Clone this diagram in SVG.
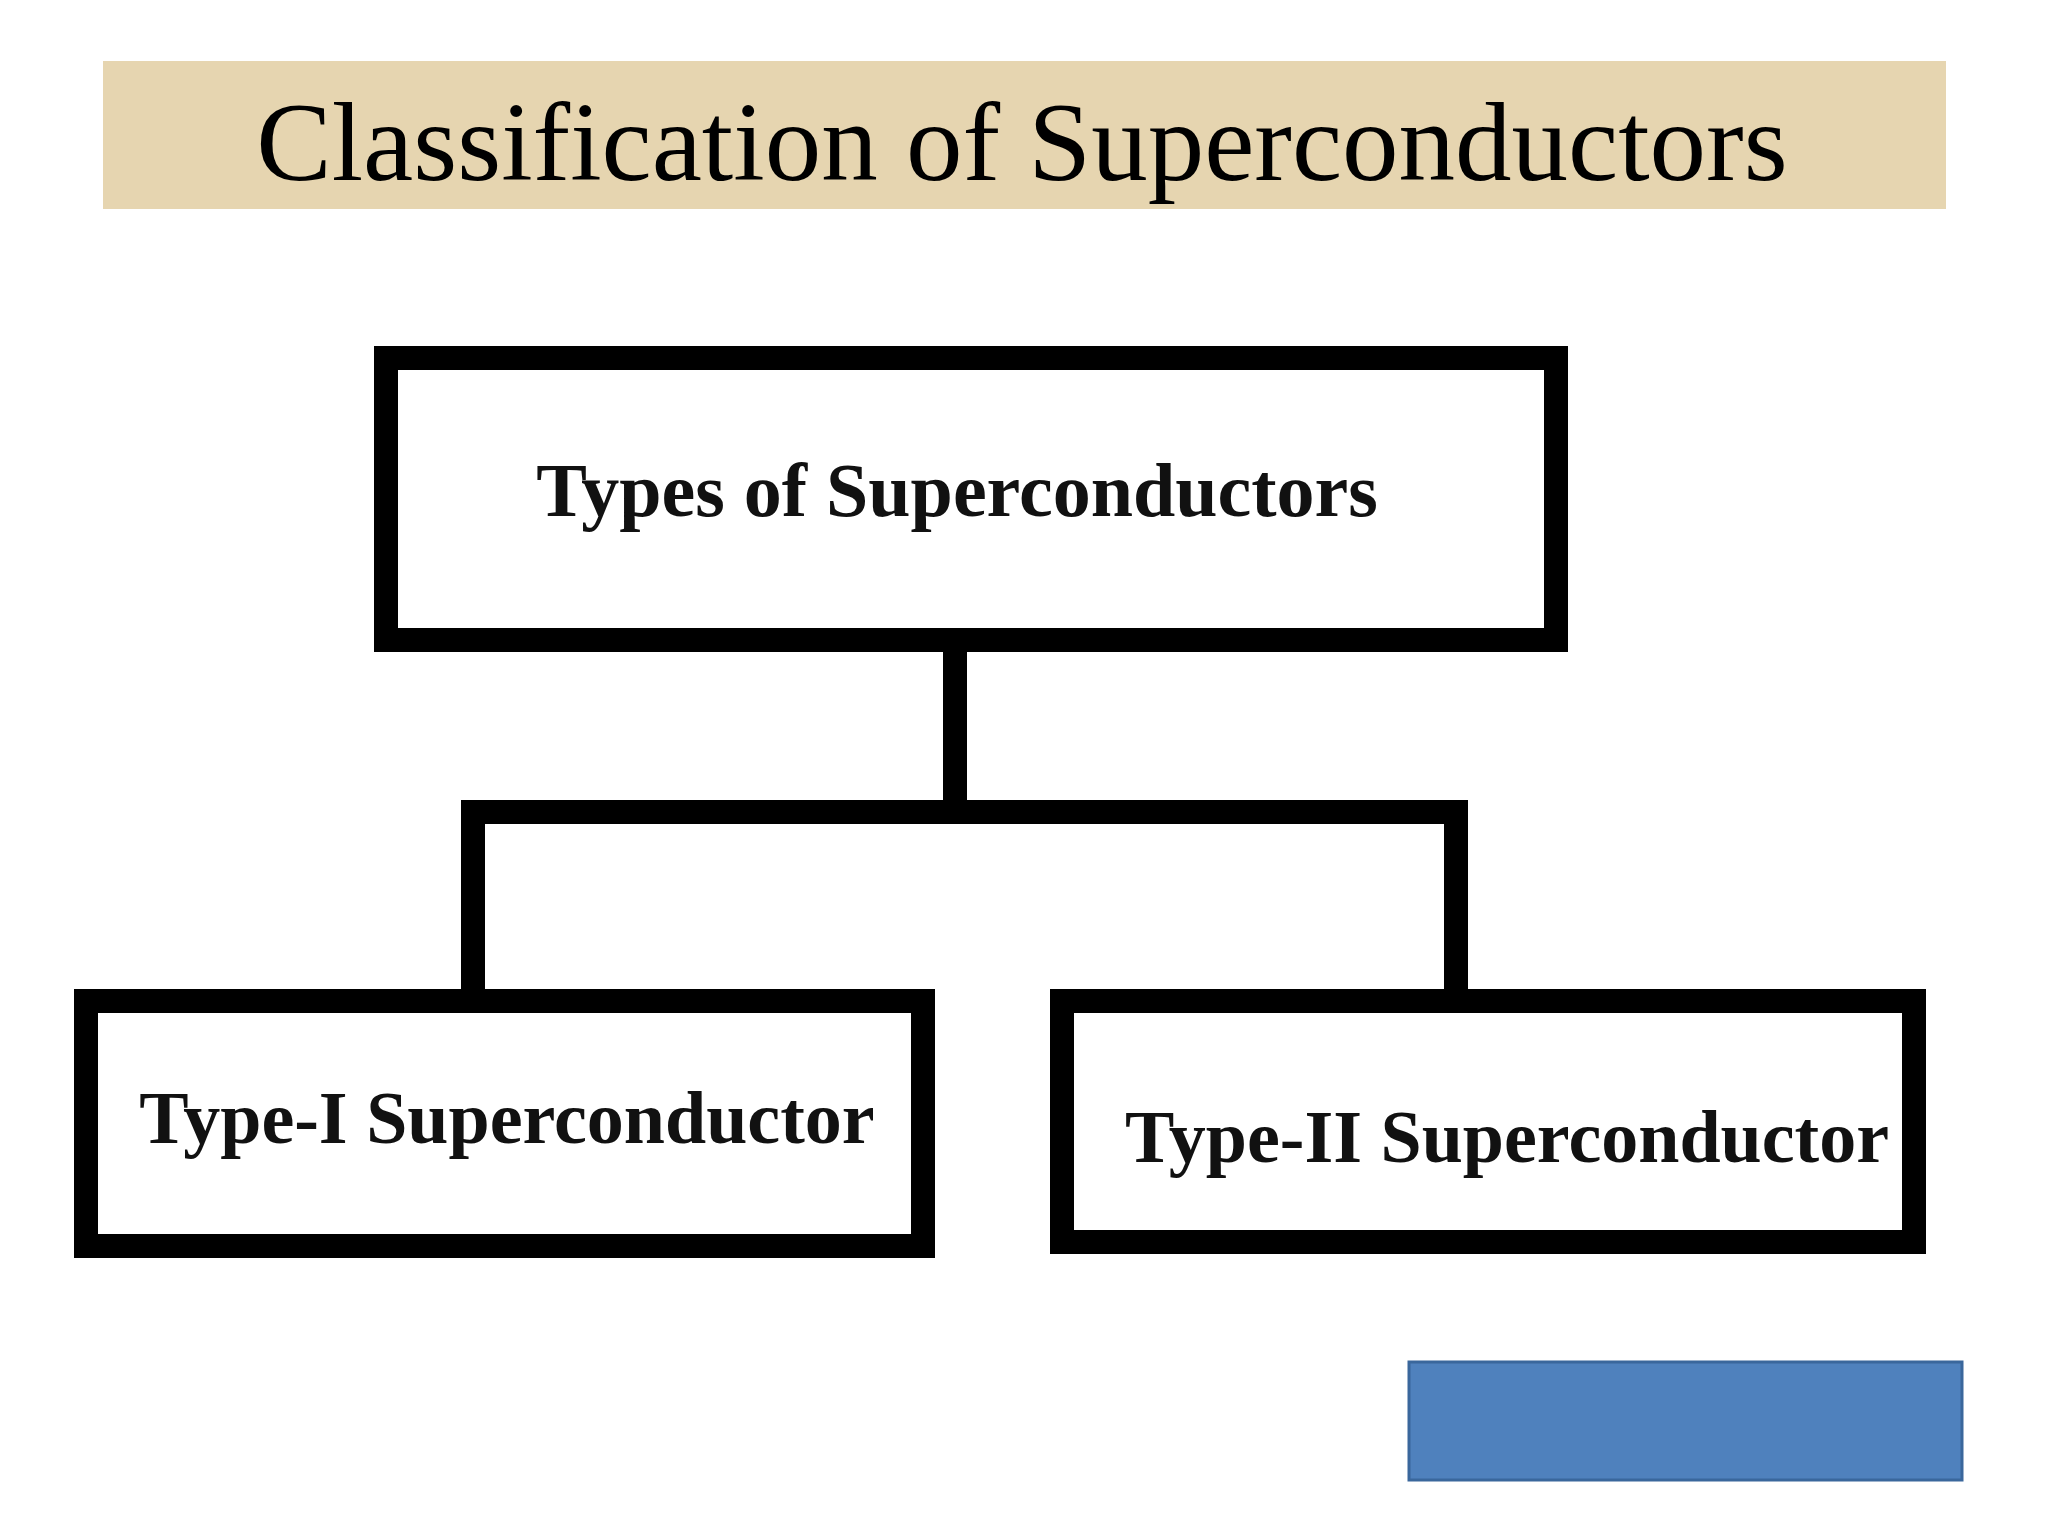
<svg xmlns="http://www.w3.org/2000/svg" width="2048" height="1536" viewBox="0 0 2048 1536">
<style>
.box{fill:#fff;stroke:#000;stroke-width:24}
.lbl{font-family:"Liberation Serif",serif;font-weight:bold;fill:#111;text-anchor:middle}
.con{stroke:#000;stroke-width:24;fill:none}
</style>
<rect width="2048" height="1536" fill="#fff"/>
<g id="title">
<rect x="103" y="61" width="1843" height="148" fill="#e6d5b0"/>
<text x="1022" y="180" font-family="Liberation Serif,serif" font-size="113" text-anchor="middle" fill="#000">Classification of Superconductors</text>
</g>
<g id="connectors">
<path class="con" d="M955 652V812M473 993V812H1456V993"/>
</g>
<g id="root">
<rect class="box" x="386" y="358" width="1170" height="282"/>
<text class="lbl" x="957" y="516" font-size="76">Types of Superconductors</text>
</g>
<g id="type1">
<rect class="box" x="86" y="1001" width="837" height="245"/>
<text class="lbl" x="507" y="1143" font-size="74">Type-I Superconductor</text>
</g>
<g id="type2">
<rect class="box" x="1062" y="1001" width="852" height="241"/>
<text class="lbl" x="1507" y="1162" font-size="74">Type-II Superconductor</text>
</g>
<g id="blue">
<rect x="1409" y="1362" width="553" height="118" fill="#4f81bd" stroke="#3a679c" stroke-width="3"/>
</g>
</svg>
